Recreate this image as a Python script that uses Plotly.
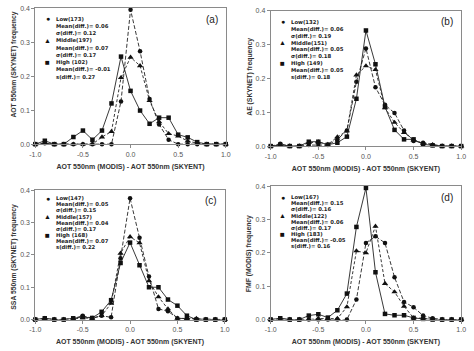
import plotly.graph_objects as go

# ---------------- data ----------------
diff_bins = [-1.0, -0.9, -0.8, -0.7, -0.6, -0.5, -0.4, -0.3, -0.2, -0.1, 0.0,
             0.1, 0.2, 0.3, 0.4, 0.5, 0.6, 0.7, 0.8, 0.9, 1.0]

low_a = [0, 0.003, 0, 0, 0, 0, 0, 0, 0, 0.126, 0.396, 0.274, 0.133, 0.058, 0.013, 0.0, 0, 0, 0, 0, 0]
mid_a = [0, 0.003, 0, 0, 0, 0, 0, 0.021, 0.037, 0.196, 0.256, 0.231, 0.128, 0.066, 0.031, 0.024, 0.009, 0.003, 0, 0, 0]
high_a = [0, 0.010, 0, 0, 0.021, 0.040, 0.013, 0.040, 0.120, 0.258, 0.157, 0.099, 0.060, 0.078, 0.078, 0.028, 0.020, 0.006, 0, 0, 0]

low_b = [0, 0.007, 0, 0, 0.003, 0.003, 0.003, 0.020, 0.046, 0.190, 0.289, 0.174, 0.122, 0.098, 0.046, 0.015, 0.010, 0.003, 0, 0, 0]
mid_b = [0, 0.003, 0, 0, 0.010, 0.012, 0.005, 0.027, 0.045, 0.210, 0.237, 0.226, 0.113, 0.070, 0.040, 0.018, 0.008, 0.004, 0, 0, 0]
high_b = [0, 0.004, 0, 0, 0.013, 0.013, 0.004, 0.010, 0.028, 0.140, 0.342, 0.242, 0.116, 0.048, 0.020, 0.020, 0.005, 0.002, 0, 0, 0]

low_c = [0, 0.003, 0, 0, 0.003, 0.012, 0.004, 0.012, 0.007, 0.190, 0.375, 0.253, 0.133, 0.033, 0.026, 0.004, 0.003, 0, 0, 0, 0]
mid_c = [0, 0.003, 0, 0, 0.002, 0.005, 0.004, 0.012, 0.050, 0.205, 0.256, 0.237, 0.120, 0.070, 0.033, 0.004, 0.003, 0.003, 0, 0, 0]
high_c = [0, 0.004, 0, 0, 0.004, 0.008, 0.005, 0.024, 0.060, 0.175, 0.238, 0.168, 0.100, 0.100, 0.062, 0.043, 0.012, 0, 0, 0, 0]

low_d = [0, 0.003, 0, 0, 0, 0, 0, 0, 0, 0.060, 0.230, 0.250, 0.230, 0.127, 0.053, 0.037, 0.012, 0.004, 0, 0, 0]
mid_d = [0, 0, 0, 0, 0, 0.003, 0.003, 0.003, 0.038, 0.206, 0.200, 0.280, 0.108, 0.083, 0.040, 0.005, 0.004, 0, 0, 0, 0]
high_d = [0, 0.004, 0, 0, 0.012, 0.016, 0.006, 0.028, 0.078, 0.278, 0.395, 0.142, 0.017, 0.013, 0.013, 0.005, 0.002, 0, 0, 0, 0]

panel_labels = ["(a)", "(b)", "(c)", "(d)"]
y_titles = ["AOT 550nm (SKYNET) frequency", "AE (SKYNET) frequency",
            "SSA 550nm (SKYNET) frequency", "FMF (MODIS) frequency"]
x_title = "AOT 550nm (MODIS) - AOT 550nm (SKYENT)"

legend_texts = [
    [["Low(173)", "Mean(diff.)= 0.06", "σ(diff.)= 0.12"],
     ["Middle(197)", "Mean(diff.)= 0.07", "σ(diff.)= 0.17"],
     ["High (102)", "Mean(diff.)= -0.01", "s(diff.)= 0.27"]],
    [["Low(132)", "Mean(diff.)= 0.06", "σ(diff.)= 0.19"],
     ["Middle(151)", "Mean(diff.)= 0.05", "σ(diff.)= 0.18"],
     ["High (149)", "Mean(diff.)= 0.05", "s(diff.)= 0.18"]],
    [["Low(147)", "Mean(diff.)= 0.05", "σ(diff.)= 0.15"],
     ["Middle(157)", "Mean(diff.)= 0.04", "σ(diff.)= 0.17"],
     ["High (168)", "Mean(diff.)= 0.07", "s(diff.)= 0.22"]],
    [["Low(167)", "Mean(diff.)= 0.15", "σ(diff.)= 0.16"],
     ["Middle(122)", "Mean(diff.)= 0.06", "σ(diff.)= 0.17"],
     ["High (183)", "Mean(diff.)= -0.05", "s(diff.)= 0.16"]],
]

series = [(low_a, mid_a, high_a), (low_b, mid_b, high_b),
          (low_c, mid_c, high_c), (low_d, mid_d, high_d)]

# ---------------- layout geometry (pixels) ----------------
W, H = 474, 351
px_x = [(30, 225), (271, 466), (30, 224), (271, 466)]
px_y = [(143, 4.5), (145, 7), (322, 190), (322, 186)]   # (y of 0.0, y of 0.4)
ytitle_center = [62, 74, 258, 255]
legend_start = [15, 18, 198, 197]
legend_step = [7.4, 7.1, 6.3, 6.3]

FONT = "Liberation Sans, Arial, sans-serif"
LEGFONT = "DejaVu Sans, Liberation Sans, sans-serif"
LINE = "#222222"
AXC = "#8a8a8a"

fig = go.Figure()

styles = [("circle", "4px,2px", 4.5), ("triangle-up", "3px,2px", 5.5), ("square", "solid", 4.5)]
names = ["Low", "Middle", "High"]
symbols_txt = ["●", "▲", "■"]
symbol_sizes = [7, 7, 8]

for i in range(4):
    xa = "x" if i == 0 else f"x{i+1}"
    ya = "y" if i == 0 else f"y{i+1}"
    for k, vals in enumerate(series[i]):
        sym, dash, ms = styles[k]
        fig.add_trace(go.Scatter(
            x=diff_bins, y=vals, xaxis=xa, yaxis=ya, mode="lines+markers",
            name=names[k], showlegend=False, cliponaxis=False,
            line=dict(color=LINE, width=0.9, dash=dash),
            marker=dict(symbol=sym, size=ms, color="#111111")))

    x0, x1 = px_x[i]
    y0, y4 = px_y[i]
    key = "" if i == 0 else str(i + 1)
    fig.layout["xaxis" + key] = dict(
        domain=[x0 / W, x1 / W], anchor=ya, range=[-1.0, 1.0],
        tickvals=[-1.0, -0.5, 0.0, 0.5, 1.0], ticktext=["-1.0", "-0.5", "0.0", "0.5", "1.0"],
        showline=True, linecolor=AXC, linewidth=1, mirror=True,
        ticks="outside", ticklen=3, tickcolor=AXC,
        showgrid=False, zeroline=False,
        tickfont=dict(family=FONT, size=7, color="#555555"),
        title=dict(text="<b>" + x_title + "</b>", standoff=7,
                   font=dict(family=FONT, size=7, color="#333333")))
    fig.layout["yaxis" + key] = dict(
        domain=[1 - y0 / H, 1 - y4 / H], anchor=xa, range=[0, 0.4],
        tickvals=[0.0, 0.1, 0.2, 0.3, 0.4], ticktext=["0.0", "0.1", "0.2", "0.3", "0.4"],
        showline=True, linecolor=AXC, linewidth=1, mirror=True,
        ticks="outside", ticklen=3, tickcolor=AXC,
        showgrid=False, zeroline=False,
        tickfont=dict(family=FONT, size=7, color="#555555"))

    # y title
    fig.add_annotation(
        xref="paper", yref="paper", x=(x0 - 22) / W, y=1 - ytitle_center[i] / H,
        text="<b>" + y_titles[i] + "</b>", textangle=-90, showarrow=False,
        font=dict(family=FONT, size=6.8, color="#333333"), xanchor="center", yanchor="middle")

    # panel label
    fig.add_annotation(
        xref="paper", yref="paper", x=(x1 - 6) / W, y=1 - (y4 + 11) / H,
        text=panel_labels[i], showarrow=False, xanchor="right", yanchor="middle",
        font=dict(family=FONT, size=10, color="#222222"))

    # legend block
    step = legend_step[i]
    yline = legend_start[i]
    for g in range(3):
        for j, t in enumerate(legend_texts[i][g]):
            if j == 0:
                fig.add_annotation(
                    xref="paper", yref="paper", x=(x0 + 12.5) / W, y=1 - yline / H,
                    text=symbols_txt[g], showarrow=False, xanchor="center", yanchor="middle",
                    borderpad=0, borderwidth=0,
                    font=dict(family=FONT, size=symbol_sizes[g], color="#111111"))
            fig.add_annotation(
                xref="paper", yref="paper", x=(x0 + 21) / W, y=1 - yline / H,
                text="<b>" + t + "</b>", showarrow=False, xanchor="left", yanchor="middle",
                borderpad=0, borderwidth=0,
                font=dict(family=LEGFONT, size=5.3, color="#222222"))
            yline += step

fig.update_layout(width=W, height=H, margin=dict(l=0, r=0, t=0, b=0),
                  paper_bgcolor="white", plot_bgcolor="white",
                  font=dict(family=FONT))

fig.write_html("out.html")
